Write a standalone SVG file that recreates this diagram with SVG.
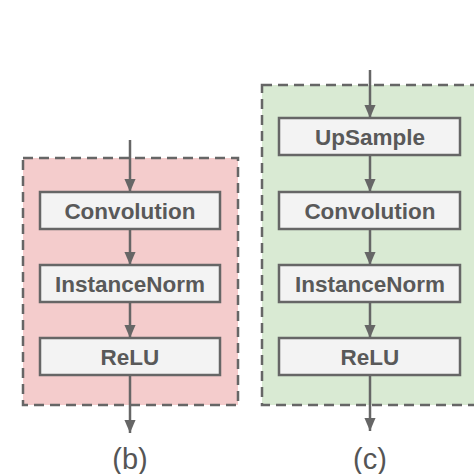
<svg xmlns="http://www.w3.org/2000/svg" width="474" height="474" viewBox="0 0 474 474">
<defs>
<style>
.panel{stroke:#666666;stroke-width:2.5;stroke-dasharray:10 6}
.box{fill:#f3f3f3;stroke:#666666;stroke-width:2.5}
.lbl{font-family:"Liberation Sans",Arial,sans-serif;font-weight:bold;font-size:22.5px;fill:#595959;text-anchor:middle}
.cap{font-family:"Liberation Sans",Arial,sans-serif;font-size:29px;fill:#555555;text-anchor:middle}
.edge{stroke:#666666;stroke-width:2.5;fill:none;marker-end:url(#ah)}
</style>
<marker id="ah" viewBox="0 0 10 10" refX="10" refY="5" markerWidth="5.4" markerHeight="4.6" markerUnits="strokeWidth" orient="auto" preserveAspectRatio="none">
<path d="M0,0 L10,5 L0,10 z" fill="#666666"/>
</marker>
</defs>
<rect width="474" height="474" fill="#ffffff"/>
<rect id="panel-b" class="panel" x="23" y="158" width="215" height="247" fill="#f4cccc"/>
<rect id="panel-c" class="panel" x="262" y="85" width="220" height="320" fill="#d9ead3"/>
<g id="connectors">
<line class="edge" x1="130" y1="140" x2="130" y2="192"/>
<line class="edge" x1="130" y1="229" x2="130" y2="265"/>
<line class="edge" x1="130" y1="302" x2="130" y2="338"/>
<line class="edge" x1="130" y1="375" x2="130" y2="433"/>
<line class="edge" x1="370" y1="70" x2="370" y2="118"/>
<line class="edge" x1="370" y1="155" x2="370" y2="192"/>
<line class="edge" x1="370" y1="229" x2="370" y2="265"/>
<line class="edge" x1="370" y1="302" x2="370" y2="338"/>
<line class="edge" x1="370" y1="375" x2="370" y2="431"/>
</g>
<g id="b-conv"><rect class="box" x="40" y="192" width="180" height="37"/><text class="lbl" x="130" y="218.5">Convolution</text></g>
<g id="b-inorm"><rect class="box" x="40" y="265" width="180" height="37"/><text class="lbl" x="130" y="291.5">InstanceNorm</text></g>
<g id="b-relu"><rect class="box" x="40" y="338" width="180" height="37"/><text class="lbl" x="130" y="364.5">ReLU</text></g>
<g id="c-up"><rect class="box" x="279" y="118" width="181" height="37"/><text class="lbl" x="370" y="144.5">UpSample</text></g>
<g id="c-conv"><rect class="box" x="279" y="192" width="181" height="37"/><text class="lbl" x="370" y="218.5">Convolution</text></g>
<g id="c-inorm"><rect class="box" x="279" y="265" width="181" height="37"/><text class="lbl" x="370" y="291.5">InstanceNorm</text></g>
<g id="c-relu"><rect class="box" x="279" y="338" width="181" height="37"/><text class="lbl" x="370" y="364.5">ReLU</text></g>
<text class="cap" x="130" y="469">(b)</text>
<text class="cap" x="370" y="469">(c)</text>
</svg>
